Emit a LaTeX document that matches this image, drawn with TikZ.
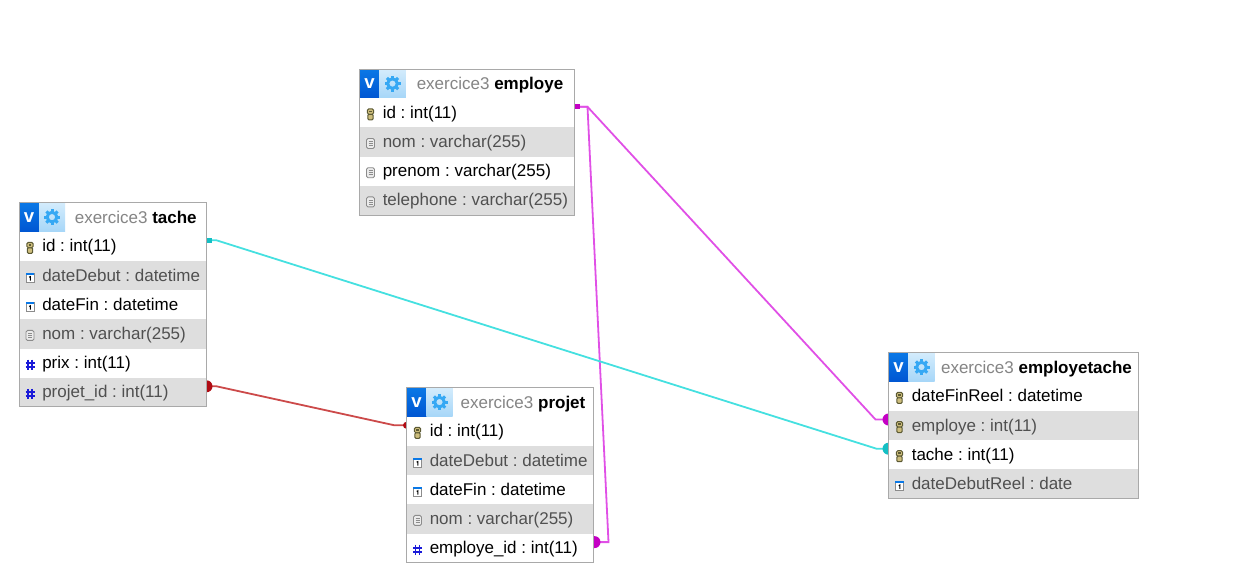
\documentclass[tikz,border=0pt]{standalone}
\usepackage{fontspec}
\setmainfont{Liberation Sans}
\usetikzlibrary{fit,positioning,calc,backgrounds}
\definecolor{rowgray}{HTML}{DEDEDE}
\definecolor{framegray}{HTML}{A9A9A9}
\definecolor{titlegray}{HTML}{858585}
\definecolor{textgray}{HTML}{505050}
\definecolor{gearblue}{HTML}{35A8F4}
\definecolor{gearlight}{HTML}{D4ECFC}
\definecolor{gearmid}{HTML}{A6D6F8}
\definecolor{vlight}{HTML}{0A78E6}
\definecolor{vdark}{HTML}{0056D2}
\definecolor{hashblue}{HTML}{1A1AD8}
\definecolor{keyfill}{HTML}{CDBD7C}
\definecolor{keydraw}{HTML}{5C5A34}
\definecolor{linkmagenta}{HTML}{E050E6}
\definecolor{dotmagenta}{HTML}{C400C4}
\definecolor{linkcyan}{HTML}{45E0E0}
\definecolor{dotcyan}{HTML}{14BFC4}
\definecolor{linkred}{HTML}{CC4A4A}
\definecolor{dotred}{HTML}{B00C14}
\def\px{0.75pt}
\frenchspacing

% name, position, width, title, rows
\newcommand{\dbtable}[5]{%
  \node[headbox, minimum width=#3*\px] (#1-0) at #2 {};
  \node[vbox] (#1-v) at (#1-0.north west) {v};
  \node[gearbox, right=0pt of #1-v] (#1-g) {};
  \pic at (#1-g) {gearicon};
  \path (#1-g.east) -- (#1-0.east) node[midway, titletext] (#1-title)
    {\textcolor{titlegray}{\mdseries exercice3} #4};
  \foreach [count=\n, evaluate={\p=int(\n-1); \s=int(mod(\n,2));}] \ic/\txt in {#5} {
    \node[rowbox\s, minimum width=#3*\px, below=0pt of #1-\p] (#1-\n) {};
    \pic at ([xshift=11*\px, yshift=-1.5*\px]#1-\n.west) {\ic};
    \node[rowtext\s] (#1-\n-text) at ([xshift=23*\px, yshift=-5.5*\px]#1-\n.west) {\txt};
    % link ends sit above the middle of the row
    \coordinate (#1-\n-e) at ([yshift=6*\px]#1-\n.east);
    \coordinate (#1-\n-w) at ([yshift=6*\px]#1-\n.west);
    \xdef\lastrow{\n}
  }
  \node[tableframe, fit=(#1-0) (#1-\lastrow)] (#1) {};
}
\newcommand{\tablefont}{\fontsize{12.75}{15}\selectfont}

\begin{document}
\begin{tikzpicture}[x=\px,y=-\px,font=\tablefont,
  headbox/.style={anchor=north west,inner sep=0pt,outer sep=0pt,fill=white,
    minimum height=29.2*\px},
  vbox/.style={anchor=north west,inner sep=0pt,outer sep=0pt,minimum width=20*\px,
    minimum height=29.2*\px,top color=vlight,bottom color=vdark,
    text=white,font=\fontsize{14}{15}\selectfont\bfseries},
  gearbox/.style={inner sep=0pt,outer sep=0pt,minimum width=26*\px,
    minimum height=29.2*\px,top color=gearlight,bottom color=gearmid},
  titletext/.style={font=\tablefont\bfseries,inner sep=0pt,text height=9pt,text depth=0pt},
  rowbox0/.style={inner sep=0pt,outer sep=0pt,minimum height=29.2*\px,fill=rowgray},
  rowbox1/.style={inner sep=0pt,outer sep=0pt,minimum height=29.2*\px,fill=white},
  rowtext0/.style={anchor=base west,inner sep=0pt,text=textgray},
  rowtext1/.style={anchor=base west,inner sep=0pt,text=black},
  tableframe/.style={draw=framegray,line width=1*\px,inner sep=0pt},
  linkline/.style={line width=1.8*\px},
  enddot/.style={circle,inner sep=0pt,minimum size=12*\px},
  smalldot/.style={circle,inner sep=0pt,minimum size=7*\px},
  endsquare/.style={inner sep=0pt,minimum width=10*\px,minimum height=5*\px},
  pics/keyicon/.style={code={
    \draw[draw=keydraw,fill=keyfill,line width=1*\px,rounded corners=1.5*\px]
      (-3.2,-5.5) rectangle (3.2,0);
    \draw[draw=keydraw,fill=keyfill,line width=1*\px,rounded corners=1*\px]
      (-2.6,0) rectangle (2.6,5.5);
    \fill[keydraw] (-1.2,-3.8) rectangle (1.2,-2);
  }},
  pics/colicon/.style={code={
    \draw[draw=black!45,fill=black!8,line width=0.9*\px,rounded corners=1.5*\px]
      (-4,-5) rectangle (4,5);
    \foreach \l in {-2,0,2} \draw[black!45,line width=0.8*\px] (-2,\l) -- (2,\l);
  }},
  pics/dateicon/.style={code={
    \draw[draw=black!45,fill=white,line width=0.9*\px] (-4,-4) rectangle (4,5);
    \fill[vlight] (-4.4,-4.5) rectangle (4.4,-2);
    \draw[black,line width=1*\px] (-0.8,0.2) -- (0.3,-0.4) -- (0.3,3.5);
  }},
  pics/hashicon/.style={code={
    \foreach \l in {-2,2} {
      \draw[hashblue,line width=1.8*\px] (\l,-5) -- (\l,5);
      \draw[hashblue,line width=1.8*\px] (-4.5,\l) -- (4.5,\l);
    }
  }},
  pics/gearicon/.style={code={
    \foreach \a in {0,45,...,315}
      \draw[gearblue,line width=3*\px] (\a:4) -- (\a:8);
    \draw[gearblue,line width=3*\px] (0,0) circle (4.8);
  }}]
  \useasboundingbox (0,0) rectangle (1236,575);

  \dbtable{employe}{(359.5,69)}{215}{employe}{keyicon/{id : int(11)},
    colicon/{nom : varchar(255)},colicon/{prenom : varchar(255)},
    colicon/{telephone : varchar(255)}}
  \dbtable{tache}{(19,202.5)}{187.5}{tache}{keyicon/{id : int(11)},
    dateicon/{dateDebut : datetime},dateicon/{dateFin : datetime},
    colicon/{nom : varchar(255)},hashicon/{prix : int(11)},
    hashicon/{projet\_id : int(11)}}
  \dbtable{projet}{(406.5,387.5)}{187}{projet}{keyicon/{id : int(11)},
    dateicon/{dateDebut : datetime},dateicon/{dateFin : datetime},
    colicon/{nom : varchar(255)},hashicon/{employe\_id : int(11)}}
  \dbtable{employetache}{(888.5,352.5)}{250}{employetache}{keyicon/{dateFinReel : datetime},
    keyicon/{employe : int(11)},keyicon/{tache : int(11)},
    dateicon/{dateDebutReel : date}}

  % links stay behind the tables, the tables cut the dots in half
  \begin{pgfonlayer}{background}
    \draw[linkline,linkmagenta] (employe-1-e) -- ++(13,0)
      -- ($(employetache-2-w)+(-13,0)$) -- (employetache-2-w);
    \draw[linkline,linkmagenta] (employe-1-e) -- ++(13,0)
      -- ($(projet-5-e)+(15,0)$) -- (projet-5-e);
    \draw[linkline,linkcyan] (tache-1-e) -- ++(10,0)
      -- ($(employetache-3-w)+(-12,0)$) -- (employetache-3-w);
    \draw[linkline,linkred] (tache-6-e) -- ++(10,0)
      -- ($(projet-1-w)+(-12,0)$) -- (projet-1-w);
    \node[endsquare,fill=dotmagenta] (dot-employe) at (employe-1-e) {};
    \node[enddot,fill=dotmagenta] (dot-employetache) at (employetache-2-w) {};
    \node[enddot,fill=dotmagenta] (dot-projet) at ([xshift=1*\px]projet-5-e) {};
    \node[endsquare,fill=dotcyan] (dot-tache) at (tache-1-e) {};
    \node[enddot,fill=dotcyan] (dot-tacheref) at (employetache-3-w) {};
    \node[enddot,fill=dotred] (dot-projetref) at (tache-6-e) {};
    \node[smalldot,fill=dotred] (dot-projetid) at (projet-1-w) {};
  \end{pgfonlayer}
\end{tikzpicture}
\end{document}
